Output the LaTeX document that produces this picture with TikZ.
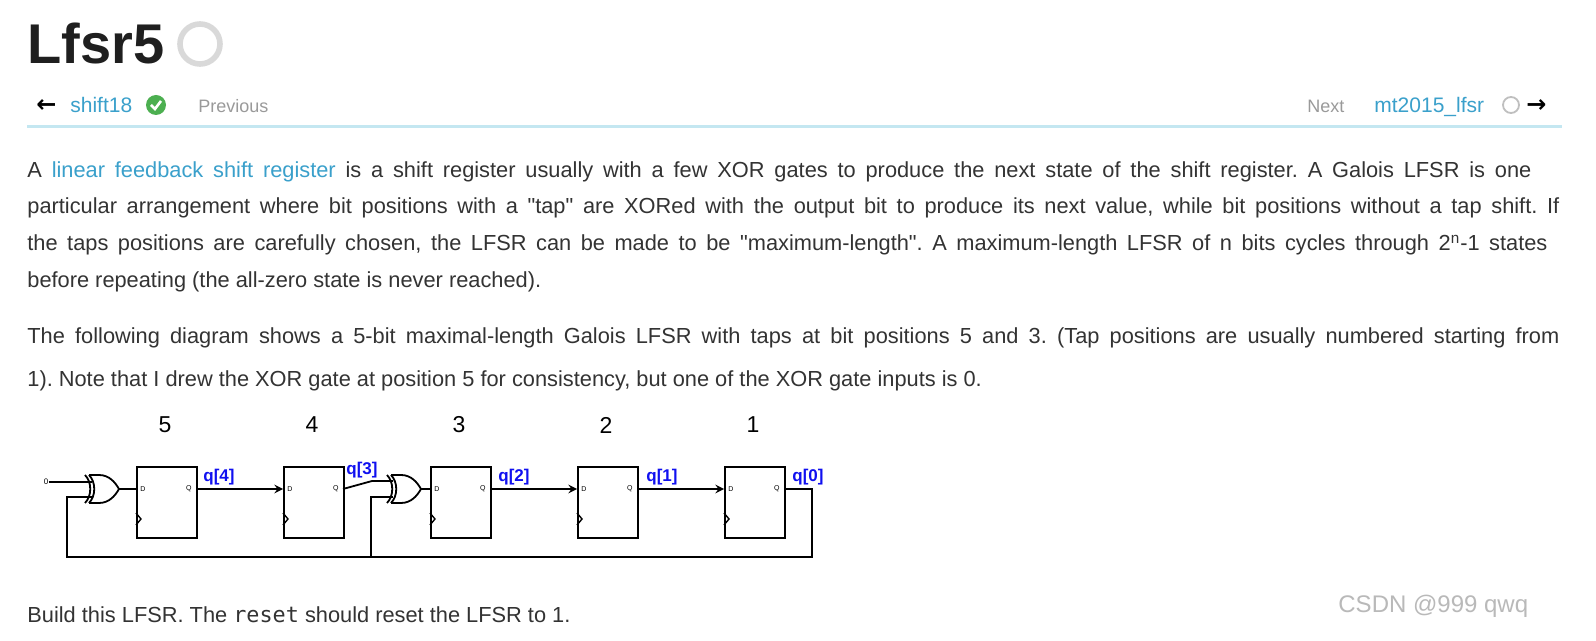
\documentclass[tikz,border=0pt]{standalone}
\usepackage{fontspec}
\setmainfont{Liberation Sans}[Ligatures=TeXOff]
\setsansfont{Liberation Sans}
\setmonofont{DejaVu Sans Mono}
\newfontfamily\symf{DejaVu Sans}
\frenchspacing
\definecolor{txt}{HTML}{333333}
\definecolor{lnk}{HTML}{3AA0CB}
\definecolor{gry}{HTML}{9A9A9A}
\definecolor{rule}{HTML}{C4E7F1}
\definecolor{okg}{HTML}{4CAF50}
\definecolor{qb}{HTML}{1010F0}
\tikzset{
  para/.style={anchor=base west,inner sep=0,text=txt,font=\fontsize{10.9}{12}\selectfont},
  ff/.style={draw,line width=1pt,minimum width=30pt,minimum height=35.5pt,inner sep=0,anchor=north west},
  qlab/.style={text=qb,font=\fontsize{8.5}{9}\sffamily\bfseries\selectfont,inner sep=0,anchor=base west},
  num/.style={font=\fontsize{11.5}{12}\selectfont,inner sep=0},
  wire/.style={line width=0.9pt},
  pin/.style={font=\fontsize{3.5}{4}\selectfont,inner sep=0}
}
\newcommand{\xorgate}[3]{% name, x, y(center)
  \coordinate (#1) at (#2,#3);
  \draw[wire] (#2,#3-14) .. controls (#2+7,#3-7) and (#2+7,#3+7) .. (#2,#3+14);
  \draw[wire] (#2+4,#3-14) .. controls (#2+11,#3-7) and (#2+11,#3+7) .. (#2+4,#3+14);
  \draw[wire] (#2+4,#3-14) -- (#2+14,#3-14) .. controls (#2+24,#3-14) and (#2+30,#3-7) .. (#2+34,#3)
     .. controls (#2+30,#3+7) and (#2+24,#3+14) .. (#2+14,#3+14) -- (#2+4,#3+14);
  \coordinate (#1out) at (#2+34,#3);
}
\newcommand{\qq}{\symbol{34}}
\begin{document}
\begin{tikzpicture}[x=0.5pt,y=-0.5pt]
\useasboundingbox[fill=white] (0,0) rectangle (1596,641);
% title
\node[anchor=base west,inner sep=0,text=black!88,font=\fontsize{28}{30}\bfseries\selectfont] (title) at (27,64) {Lfsr5};
\draw[gray!30,line width=2.8pt] (200,44) circle (20);
% nav
\node[anchor=base west,inner sep=0,font=\fontsize{12}{12}\symf\bfseries\selectfont] (la) at (36,113) {←};
\node[anchor=base west,inner sep=0,text=lnk,font=\fontsize{10.5}{11}\selectfont] (prevlink) at (70,113) {shift18};
\fill[okg] (156,105) circle (10);
\draw[white,line width=1.3pt] (151,105) -- (155,109) -- (161,101);
\node[anchor=base west,inner sep=0,text=gry,font=\fontsize{9}{10}\selectfont] (prev) at (198,113) {Previous};
\node[anchor=base west,inner sep=0,text=gry,font=\fontsize{9}{10}\selectfont] (next) at (1307,113) {Next};
\node[anchor=base west,inner sep=0,text=lnk,font=\fontsize{10.5}{11}\selectfont] (nextlink) at (1374,113) {mt2015\_lfsr};
\draw[gray!50,line width=0.9pt] (1511,105) circle (8);
\node[anchor=base west,inner sep=0,font=\fontsize{12}{12}\symf\bfseries\selectfont] (ra) at (1526,113) {→};
\draw[rule,line width=1.5pt] (27,127) -- (1562,127);
% paragraph 1
\node[para] (p1) at (27,178) {\makebox[752pt][s]{A \textcolor{lnk}{linear feedback shift register} is a shift register usually with a few XOR gates to produce the next state of the shift register. A Galois LFSR is one}};
\node[para] (p2) at (27,214) {\makebox[766pt][s]{particular arrangement where bit positions with a \qq tap\qq\ are XORed with the output bit to produce its next value, while bit positions without a tap shift. If}};
\node[para] (p3) at (27,251) {\makebox[760pt][s]{the taps positions are carefully chosen, the LFSR can be made to be \qq maximum-length\qq. A maximum-length LFSR of n bits cycles through 2\textsuperscript{n}-1 states}};
\node[para] (p4) at (27,288) {before repeating (the all-zero state is never reached).};
% paragraph 2
\node[para] (p5) at (27,344) {\makebox[766pt][s]{The following diagram shows a 5-bit maximal-length Galois LFSR with taps at bit positions 5 and 3. (Tap positions are usually numbered starting from}};
\node[para] (p6) at (27,387) {1). Note that I drew the XOR gate at position 5 for consistency, but one of the XOR gate inputs is 0.};
% circuit
\foreach \i/\x in {5/165,4/312,3/459,2/606,1/753} \node[num] (n\i) at (\x,425) {\i};
\foreach \i/\x in {5/136,4/283,3/430,2/577,1/724}{
  \node[ff] (f\i) at (\x,466) {};
  \node[pin,anchor=west] (d\i) at (\x+4,489) {D};
  \node[pin,anchor=east] (q\i) at (\x+56,489) {Q};
  \draw[line width=0.7pt] (\x,513) -- (\x+5,519) -- (\x,525);
}
\xorgate{x5}{85}{489}
\xorgate{x3}{387}{489}
\node[pin,font=\fontsize{4}{4}\selectfont] (zero) at (46,482) {0};
\draw[wire] (zero.east) -- (92,482);
\draw[wire] (x5out) -- (f5.west|-x5out);
\draw[wire] (x3out) -- (f3.west|-x3out);
\draw[wire,-stealth] (196,489) -- (f4.west|-0,489);
\draw[wire] (343,489) -- (372,481) -- (393,481);
\draw[wire,-stealth] (490,489) -- (f2.west|-0,489);
\draw[wire,-stealth] (637,489) -- (f1.west|-0,489);
\coordinate (fb) at (812,557);
\draw[wire] (784,489) -- (812,489) -- (fb) -- (67,557) -- (67,497) -- (92,497);
\draw[wire] (371,557) -- (371,497) -- (393,497);
\node[qlab] (q4l) at (203,481) {q[4]};
\node[qlab] (q3l) at (346,475) {q[3]};
\node[qlab] (q2l) at (498,481) {q[2]};
\node[qlab] (q1l) at (646,481) {q[1]};
\node[qlab] (q0l) at (792,481) {q[0]};
% last line
\node[para] (p7) at (27,622) {Build this LFSR. The \texttt{reset} should reset the LFSR to 1.};
\node[anchor=base west,inner sep=0,text=gray!55,font=\fontsize{12}{13}\selectfont] (wm) at (1338,612) {CSDN @999 qwq};
\end{tikzpicture}
\end{document}
